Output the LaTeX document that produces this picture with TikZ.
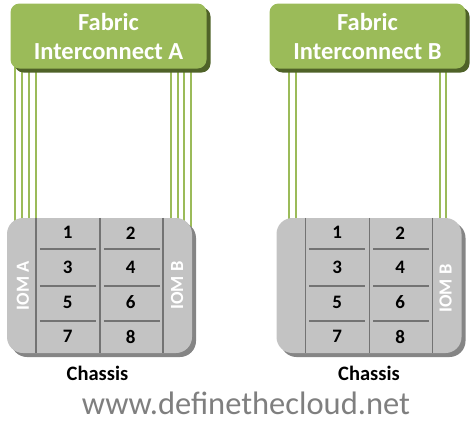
\documentclass[tikz,border=0pt]{standalone}
\usepackage{fontspec}
\setmainfont{Carlito}
\usetikzlibrary{positioning,backgrounds,shadows}
\definecolor{fabricgreen}{HTML}{9BBB59}
\definecolor{fabricshade}{HTML}{4F6228}
\definecolor{chassisgray}{HTML}{C3C3C3}
\definecolor{chassisline}{HTML}{737373}
\definecolor{chassisshade}{HTML}{858585}
\definecolor{urlgray}{HTML}{7F7F7F}

\begin{document}
\begin{tikzpicture}[x=1pt,y=-1pt,on grid,
    fabric/.style={fill=fabricgreen,rounded corners=9pt,minimum width=196pt,minimum height=65pt,
      text=white,font=\bfseries\fontsize{24.5}{29}\selectfont,align=center,
      drop shadow={shadow xshift=4pt,shadow yshift=-4pt,fill=fabricshade,opacity=1}},
    chassis/.style={fill=chassisgray,rounded corners=16pt,minimum width=185pt,minimum height=135pt,
      drop shadow={shadow xshift=4pt,shadow yshift=-4pt,fill=chassisshade,opacity=1}},
    link/.style={draw=fabricgreen,line width=1.9pt},
    grid/.style={draw=chassisline,line width=1.5pt},
    slot/.style={font=\bfseries\fontsize{19}{19}\selectfont},
    iom/.style={text=white,rotate=90,font=\bfseries\fontsize{18.5}{18.5}\selectfont},
    caption/.style={font=\bfseries\fontsize{20.5}{20.5}\selectfont}]
  \useasboundingbox (0,0) rectangle (474,426);
  % fabric interconnects
  \node[fabric] (fi_a) at (108.5,36) {Fabric\\Interconnect A};
  \node[fabric] (fi_b) at (367.5,36) {Fabric\\Interconnect B};
  % chassis bodies
  \node[chassis] (ch_a) at (99.5,285.5) {};
  \node[chassis] (ch_b) at (369,285.5) {};
  % uplinks
  \begin{scope}[on background layer]
    \foreach \dx in {5,12,19,26}
      \draw[link] ([xshift=\dx pt]fi_a.west) -- ([xshift=\dx pt]fi_a.west |- ch_a.center);
    \foreach \dx in {16,23,29,36}
      \draw[link] ([xshift=-\dx pt]fi_a.east) -- ([xshift=-\dx pt]fi_a.east |- ch_a.center);
    \foreach \dx in {20,27}
      \draw[link] ([xshift=\dx pt]fi_b.west) -- ([xshift=\dx pt]fi_b.west |- ch_b.center);
    \foreach \dx in {20,26}
      \draw[link] ([xshift=-\dx pt]fi_b.east) -- ([xshift=-\dx pt]fi_b.east |- ch_b.center);
  \end{scope}
  % slot grid
  \foreach \ch in {ch_a,ch_b}{
    \foreach \dx in {29,93,156}
      \draw[grid] ([xshift=\dx pt]\ch.north west) -- ([xshift=\dx pt]\ch.south west);
    \foreach \dy in {31,68,103}{
      \draw[grid] ([shift={(33pt,-\dy pt)}]\ch.north west) -- ++(56pt,0);
      \draw[grid] ([shift={(97pt,-\dy pt)}]\ch.north west) -- ++(56pt,0);
    }
  }
  % blade slots, chassis A
  \node[slot] (a1) at ([shift={(61pt,-15pt)}]ch_a.north west) {1};
  \node[slot] (a2) [right=63pt of a1] {2};
  \node[slot] (a3) [below=34.5pt of a1] {3};
  \node[slot] (a4) [right=63pt of a3] {4};
  \node[slot] (a5) [below=35pt of a3] {5};
  \node[slot] (a6) [right=63pt of a5] {6};
  \node[slot] (a7) [below=34.5pt of a5] {7};
  \node[slot] (a8) [right=63pt of a7] {8};
  % blade slots, chassis B
  \node[slot] (b1) at ([shift={(61pt,-15pt)}]ch_b.north west) {1};
  \node[slot] (b2) [right=63pt of b1] {2};
  \node[slot] (b3) [below=34.5pt of b1] {3};
  \node[slot] (b4) [right=63pt of b3] {4};
  \node[slot] (b5) [below=35pt of b3] {5};
  \node[slot] (b6) [right=63pt of b5] {6};
  \node[slot] (b7) [below=34.5pt of b5] {7};
  \node[slot] (b8) [right=63pt of b7] {8};
  % io modules
  \node[iom] (iom_aa) at ([xshift=16pt]ch_a.west) {IOM A};
  \node[iom] (iom_ab) at ([xshift=-15pt]ch_a.east) {IOM B};
  \node[iom] (iom_bb) at ([xshift=-16pt,yshift=-3pt]ch_b.east) {IOM B};
  % captions
  \node[caption] (lbl_a) at ([xshift=-2pt,yshift=-20pt]ch_a.south) {Chassis};
  \node[caption] (lbl_b) at ([yshift=-20pt]ch_b.south) {Chassis};
  \node[text=urlgray,font=\fontsize{32.5}{32.5}\selectfont] (url) at (246,403) {www.definethecloud.net};
\end{tikzpicture}
\end{document}
